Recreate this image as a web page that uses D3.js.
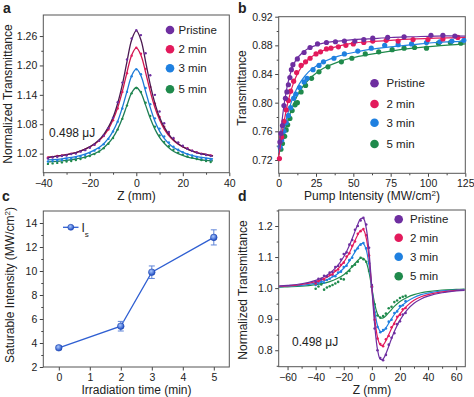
<!DOCTYPE html>
<html>
<head>
<meta charset="utf-8">
<script src="https://cdn.jsdelivr.net/npm/d3@7"></script>
<style>
  body { margin: 0; background: #fff; }
  svg text { font-family: "Liberation Sans", Arial, sans-serif; fill: #222; }
</style>
</head>
<body>
<svg id="fig" width="474" height="397"></svg>
<script>
// ---- data ----
const seriesNames = ['Pristine', '2 min', '3 min', '5 min'];
const seriesColors = ['#6e2ea0', '#e31a5c', '#1f80e0', '#1f8a4c'];

// (a) open-aperture Z-scan
const aDotZ = [-38,-36,-34,-32,-30,-28,-26,-24,-22,-20,-18,-16,-14,-12,-10,-8,-6,-4,-2,0,2,4,6,8,10,12,14,16,18,20,22,24,26,28,30,32];
const aDotPristine = [1.010,1.012,1.013,1.015,1.016,1.019,1.020,1.024,1.027,1.032,1.038,1.046,1.057,1.072,1.093,1.125,1.165,1.212,1.255,1.272,1.262,1.225,1.180,1.140,1.106,1.082,1.064,1.052,1.043,1.036,1.030,1.026,1.022,1.019,1.017,1.015];
const aDot2min = [1.012,1.013,1.015,1.016,1.017,1.020,1.021,1.025,1.028,1.033,1.038,1.046,1.056,1.069,1.088,1.112,1.146,1.184,1.220,1.236,1.224,1.193,1.156,1.122,1.095,1.075,1.061,1.050,1.042,1.035,1.031,1.026,1.023,1.020,1.018,1.016];
const aDot3min = [1.004,1.005,1.006,1.007,1.009,1.010,1.012,1.014,1.017,1.021,1.026,1.031,1.039,1.050,1.065,1.085,1.112,1.146,1.178,1.192,1.182,1.154,1.121,1.092,1.071,1.055,1.043,1.034,1.028,1.023,1.019,1.016,1.013,1.011,1.009,1.008];
const aDot5min = [0.999,1.000,1.001,1.002,1.004,1.005,1.007,1.009,1.012,1.015,1.019,1.024,1.031,1.040,1.052,1.069,1.091,1.118,1.143,1.154,1.146,1.124,1.097,1.075,1.057,1.044,1.035,1.028,1.022,1.018,1.014,1.012,1.009,1.007,1.005,1.003];
const aFitZ = [-38,-34,-30,-26,-22,-18,-15,-12,-10,-8,-6,-4,-2,0,2,4,6,8,10,12,15,18,22,26,30,33];
const aFitPristine = [1.012,1.015,1.018,1.022,1.029,1.040,1.053,1.074,1.094,1.123,1.161,1.208,1.252,1.271,1.252,1.208,1.161,1.123,1.094,1.074,1.053,1.040,1.029,1.022,1.018,1.015];
const aFit2min = [1.013,1.015,1.018,1.022,1.029,1.039,1.051,1.070,1.089,1.114,1.147,1.186,1.221,1.236,1.221,1.186,1.147,1.114,1.089,1.070,1.051,1.039,1.029,1.022,1.018,1.016];
const aFit3min = [1.007,1.008,1.011,1.014,1.019,1.027,1.036,1.051,1.066,1.086,1.114,1.147,1.179,1.193,1.179,1.147,1.114,1.086,1.066,1.051,1.036,1.027,1.019,1.014,1.011,1.009];
const aFit5min = [1.003,1.004,1.006,1.009,1.013,1.020,1.028,1.041,1.053,1.070,1.092,1.119,1.144,1.155,1.144,1.119,1.092,1.070,1.053,1.041,1.028,1.020,1.013,1.009,1.006,1.005];
const aXTicks = [-40, -20, 0, 20, 40];
const aYTicks = [1.02, 1.08, 1.14, 1.20, 1.26];

// (b) transmittance vs pump intensity
const bDotIPristine = [0.8,1.5,2.5,3.5,4.5,5.5,6.5,7.5,8.5,9.5,12.5,17,21,26,32,38,44,51,57,63,73,84,102,110,118];
const bDotTPristine = [0.745,0.757,0.768,0.796,0.806,0.815,0.825,0.835,0.846,0.853,0.861,0.870,0.877,0.882,0.884,0.885,0.886,0.886,0.888,0.890,0.891,0.892,0.894,0.894,0.893];
const bDotI2min = [0.5,2,3.5,5,6.5,8,10,12,15,18,21,25,28,32,35,40,45,50,57,63,72,80,90,100,110,120];
const bDotT2min = [0.722,0.752,0.774,0.790,0.803,0.816,0.830,0.842,0.852,0.857,0.862,0.868,0.871,0.875,0.876,0.878,0.880,0.882,0.884,0.886,0.887,0.886,0.888,0.888,0.889,0.891];
const bDotI3min = [1,2,3.5,5,6.5,8,10,11.5,14,17,19,23,27,30,37,44,53,62,71,80,89,99,108,116,124];
const bDotT3min = [0.738,0.748,0.760,0.772,0.782,0.793,0.806,0.812,0.821,0.829,0.834,0.846,0.852,0.857,0.862,0.868,0.872,0.876,0.880,0.881,0.882,0.884,0.885,0.886,0.887];
const bDotI5min = [1.5,2.5,4,5,6,7.5,9,11,12.5,15,18,22,27,33,42,49,58,67,76,84,91,99,107,115,122];
const bDotT5min = [0.735,0.743,0.753,0.762,0.769,0.778,0.789,0.797,0.800,0.815,0.824,0.834,0.843,0.850,0.857,0.862,0.868,0.871,0.874,0.876,0.877,0.876,0.883,0.884,0.883];
const bFitI = [0,1,2,3,4,5,6,8,10,12,15,20,25,30,40,50,60,75,90,105,125];
const bFitPristine = [0.735,0.752,0.770,0.788,0.803,0.815,0.826,0.842,0.853,0.861,0.868,0.876,0.880,0.883,0.886,0.888,0.889,0.891,0.892,0.893,0.893];
const bFit2min = [0.725,0.738,0.752,0.766,0.778,0.789,0.799,0.815,0.828,0.838,0.849,0.861,0.868,0.873,0.879,0.883,0.885,0.887,0.889,0.890,0.891];
const bFit3min = [0.730,0.739,0.749,0.758,0.767,0.776,0.784,0.798,0.810,0.819,0.830,0.843,0.851,0.857,0.865,0.870,0.874,0.878,0.881,0.884,0.886];
const bFit5min = [0.727,0.735,0.743,0.751,0.759,0.767,0.774,0.787,0.798,0.808,0.819,0.832,0.841,0.848,0.857,0.863,0.867,0.872,0.876,0.879,0.882];
const bXTicks = [0, 25, 50, 75, 100, 125];
const bYTicks = [0.72, 0.76, 0.80, 0.84, 0.88, 0.92];

// (c) saturable intensity vs irradiation time
const cTime = [0, 2, 3, 5];
const cIs = [3.6, 5.4, 9.9, 12.8];
const cErr = [0.15, 0.4, 0.52, 0.63];
const cXTicks = [0, 1, 2, 3, 4, 5];
const cYTicks = [2, 4, 6, 8, 10, 12, 14];

// (d) closed-aperture Z-scan
const dDotZ = [-40,-38,-36,-34,-32,-30,-28,-26,-24,-22,-20,-18,-16,-14,-12,-10,-8,-6,-4,-2,0,2,4,6,8,10,12,14,16,18,20,22,24];
const dDotPristine = [1.020,1.030,1.028,1.040,1.038,1.050,1.052,1.068,1.071,1.092,1.110,1.115,1.140,1.155,1.188,1.200,1.218,1.226,1.205,1.130,1.010,0.870,0.800,0.775,0.768,0.785,0.818,0.840,0.855,0.884,0.893,0.915,0.920];
const dDot2min = [1.015,1.022,1.030,1.028,1.037,1.042,1.044,1.056,1.060,1.075,1.082,1.102,1.112,1.136,1.150,1.175,1.183,1.190,1.170,1.105,1.005,0.898,0.838,0.820,0.813,0.835,0.846,0.874,0.885,0.908,0.914,0.932,0.936];
const dDot3min = [1.010,1.015,1.020,1.018,1.026,1.030,1.040,1.038,1.050,1.053,1.068,1.072,1.090,1.098,1.120,1.128,1.140,1.145,1.128,1.080,1.003,0.922,0.875,0.858,0.865,0.870,0.892,0.898,0.920,0.925,0.942,0.945,0.958];
const dDot5min = [0.998,1.005,1.012,0.995,1.002,1.006,1.010,1.015,1.020,1.030,1.028,1.048,1.055,1.070,1.075,1.085,1.098,1.093,1.085,1.055,1.005,0.948,0.912,0.905,0.910,0.918,0.935,0.940,0.955,0.960,0.968,0.972,0.975];
const dFitZ = [-66,-60,-50,-40,-35,-30,-25,-20,-16,-13,-10,-8,-6,-4,-2,0,2,4,6,8,10,13,16,20,25,30,35,40,50,60,66];
const dFitPristine = [1.007,1.009,1.014,1.025,1.034,1.048,1.069,1.101,1.137,1.171,1.206,1.223,1.224,1.193,1.116,1.0,0.882,0.803,0.771,0.772,0.789,0.825,0.860,0.897,0.929,0.951,0.965,0.974,0.985,0.991,0.993];
const dFit2min = [1.006,1.007,1.012,1.021,1.029,1.040,1.058,1.084,1.114,1.143,1.172,1.186,1.187,1.161,1.097,1.0,0.905,0.842,0.817,0.817,0.831,0.860,0.888,0.917,0.943,0.961,0.972,0.979,0.988,0.993,0.994];
const dFit3min = [1.004,1.006,1.009,1.016,1.022,1.031,1.044,1.064,1.087,1.109,1.131,1.142,1.143,1.123,1.074,1.0,0.928,0.880,0.861,0.861,0.872,0.894,0.915,0.937,0.957,0.970,0.979,0.984,0.991,0.994,0.996];
const dFit5min = [1.003,1.004,1.006,1.011,1.015,1.021,1.030,1.043,1.059,1.074,1.089,1.096,1.096,1.083,1.050,1.0,0.950,0.917,0.904,0.904,0.911,0.926,0.941,0.957,0.970,0.979,0.985,0.989,0.994,0.996,0.997];
const dXTicks = [-60, -40, -20, 0, 20, 40, 60];
const dYTicks = [0.8, 0.9, 1.0, 1.1, 1.2];

// ---- drawing ----
const svg = d3.select('#fig');

function makePanel(box, xDomain, yDomain) {
  return {
    box: box,
    x: d3.scaleLinear().domain(xDomain).range([box.x0, box.x1]),
    y: d3.scaleLinear().domain(yDomain).range([box.y1, box.y0]),
  };
}

function midpoints(ticks) {
  let out = [];
  for (let i = 0; i < ticks.length - 1; i++) out.push((ticks[i] + ticks[i + 1]) / 2);
  return out;
}

function drawAxes(p, xTicks, yTicks, xFmt, yFmt, xMinor, yMinor) {
  const b = p.box;
  const styleAxis = g => {
    g.select('.domain').remove();
    g.selectAll('line').attr('stroke', '#444');
    g.selectAll('text').style('font-size', '10.5px').attr('fill', '#222');
  };
  if (xMinor.length)
    svg.append('g').attr('transform', `translate(0,${b.y1})`)
      .call(d3.axisBottom(p.x).tickValues(xMinor).tickSize(2).tickFormat(''))
      .call(styleAxis);
  svg.append('g').attr('transform', `translate(0,${b.y1})`)
    .call(d3.axisBottom(p.x).tickValues(xTicks).tickSize(3.5).tickPadding(3).tickFormat(xFmt))
    .call(styleAxis);
  if (yMinor.length)
    svg.append('g').attr('transform', `translate(${b.x0},0)`)
      .call(d3.axisLeft(p.y).tickValues(yMinor).tickSize(2).tickFormat(''))
      .call(styleAxis);
  svg.append('g').attr('transform', `translate(${b.x0},0)`)
    .call(d3.axisLeft(p.y).tickValues(yTicks).tickSize(3.5).tickPadding(2.5).tickFormat(yFmt))
    .call(styleAxis);
  svg.append('rect')
    .attr('x', b.x0).attr('y', b.y0)
    .attr('width', b.x1 - b.x0).attr('height', b.y1 - b.y0)
    .attr('fill', 'none').attr('stroke', '#555').attr('stroke-width', 1);
}

function drawFit(p, xs, ys, color, width) {
  const line = d3.line()
    .x((d, i) => p.x(xs[i]))
    .y(d => p.y(d))
    .curve(d3.curveCatmullRom.alpha(0.5));
  svg.append('path').datum(ys)
    .attr('d', line)
    .attr('fill', 'none')
    .attr('stroke', color)
    .attr('stroke-width', width);
}

function drawDots(p, xs, ys, color, r) {
  svg.append('g').selectAll('circle')
    .data(ys)
    .enter()
    .append('circle')
    .attr('cx', (d, i) => p.x(xs[i]))
    .attr('cy', d => p.y(d))
    .attr('r', r)
    .attr('fill', color);
}

function drawLegend(x, ys, textX) {
  seriesNames.forEach((name, i) => {
    svg.append('circle').attr('cx', x).attr('cy', ys[i]).attr('r', 4.3).attr('fill', seriesColors[i]);
    svg.append('text').attr('x', textX).attr('y', ys[i] + 4)
      .style('font-size', '11.5px').text(name);
  });
}

function yTitle(x, y, txt) {
  return svg.append('text')
    .attr('transform', `translate(${x},${y})rotate(-90)`)
    .attr('text-anchor', 'middle')
    .style('font-size', '12px')
    .text(txt);
}

function xTitle(x, y, txt) {
  return svg.append('text')
    .attr('x', x).attr('y', y)
    .attr('text-anchor', 'middle')
    .style('font-size', '12px')
    .text(txt);
}

function panelLetter(x, y, txt) {
  svg.append('text').attr('x', x).attr('y', y)
    .style('font-size', '14px').style('font-weight', 'bold').text(txt);
}

// panel a
const pa = makePanel({x0: 43.3, x1: 229.3, y0: 15, y1: 172.7}, [-40, 40], [0.981, 1.303]);
drawAxes(pa, aXTicks, aYTicks, d3.format('d'), d3.format('.2f'), midpoints(aXTicks), midpoints(aYTicks));
const aDots = [aDotPristine, aDot2min, aDot3min, aDot5min];
const aFits = [aFitPristine, aFit2min, aFit3min, aFit5min];
const aFitColors = ['#4a1850', '#d0154f', '#1c78d6', '#1f7e56'];
[3, 2, 1, 0].forEach(i => {
  drawFit(pa, aFitZ, aFits[i], aFitColors[i], 1.3);
  drawDots(pa, aDotZ, aDots[i], seriesColors[i], 1.2);
});
drawLegend(170, [30, 49.3, 68.3, 89.3], 178.5);
svg.append('text').attr('x', 49).attr('y', 137).style('font-size', '12px').text('0.498 μJ');
yTitle(12, 94, 'Normalized Transmittance');
xTitle(136.5, 200, 'Z (mm)');
panelLetter(3, 13, 'a');

// panel b
const pb = makePanel({x0: 278.7, x1: 465.3, y0: 16.7, y1: 173.3}, [0, 125], [0.7014, 0.92]);
drawAxes(pb, bXTicks, bYTicks, d3.format('d'), d3.format('.2f'), midpoints(bXTicks), midpoints(bYTicks));
const bFits = [bFitPristine, bFit2min, bFit3min, bFit5min];
const bDotI = [bDotIPristine, bDotI2min, bDotI3min, bDotI5min];
const bDotT = [bDotTPristine, bDotT2min, bDotT3min, bDotT5min];
[3, 2, 1, 0].forEach(i => {
  drawFit(pb, bFitI, bFits[i], seriesColors[i], 1.2);
  drawDots(pb, bDotI[i], bDotT[i], seriesColors[i], 2.6);
});
drawLegend(374.5, [83.3, 104, 122.7, 144], 386.5);
yTitle(246, 88, 'Transmittance');
const bx = xTitle(372, 200, 'Pump Intensity (MW/cm');
bx.append('tspan').attr('baseline-shift', 'super').style('font-size', '8px').text('2');
bx.append('tspan').text(')');
panelLetter(238, 13, 'b');

// panel c
const pc = makePanel({x0: 43.3, x1: 229.3, y0: 211, y1: 367}, [-0.5, 5.5], [2, 15]);
drawAxes(pc, cXTicks, cYTicks, d3.format('d'), d3.format('d'), [], [3, 5, 7, 9, 11, 13]);
const grad = svg.append('defs').append('radialGradient')
  .attr('id', 'ball').attr('cx', '40%').attr('cy', '35%').attr('r', '65%');
grad.append('stop').attr('offset', '0%').attr('stop-color', '#a9c8ff');
grad.append('stop').attr('offset', '100%').attr('stop-color', '#1a48c0');
const cLine = d3.line().x((d, i) => pc.x(cTime[i])).y(d => pc.y(d));
svg.append('path').datum(cIs).attr('d', cLine)
  .attr('fill', 'none').attr('stroke', '#2f5fd2').attr('stroke-width', 1.3);
const errG = svg.append('g').attr('stroke', '#5f84d8').attr('stroke-width', 1);
cIs.forEach((v, i) => {
  const cx = pc.x(cTime[i]);
  errG.append('line').attr('x1', cx).attr('x2', cx)
    .attr('y1', pc.y(v - cErr[i])).attr('y2', pc.y(v + cErr[i]));
  errG.append('line').attr('x1', cx - 3).attr('x2', cx + 3)
    .attr('y1', pc.y(v - cErr[i])).attr('y2', pc.y(v - cErr[i]));
  errG.append('line').attr('x1', cx - 3).attr('x2', cx + 3)
    .attr('y1', pc.y(v + cErr[i])).attr('y2', pc.y(v + cErr[i]));
});
svg.append('g').selectAll('circle').data(cIs).enter().append('circle')
  .attr('cx', (d, i) => pc.x(cTime[i])).attr('cy', d => pc.y(d))
  .attr('r', 3.3).attr('fill', 'url(#ball)').attr('stroke', '#1d45b0').attr('stroke-width', 0.6);
svg.append('line').attr('x1', 63).attr('x2', 78.5).attr('y1', 227.3).attr('y2', 227.3)
  .attr('stroke', '#2f5fd2').attr('stroke-width', 1.3);
svg.append('circle').attr('cx', 70.8).attr('cy', 227.3).attr('r', 3)
  .attr('fill', 'url(#ball)').attr('stroke', '#1d45b0').attr('stroke-width', 0.6);
const isLbl = svg.append('text').attr('x', 81.5).attr('y', 232).style('font-size', '12px').text('I');
isLbl.append('tspan').attr('baseline-shift', 'sub').style('font-size', '8px').text('s');
const cy = yTitle(14, 285, 'Saturable Intensity (MW/cm');
cy.append('tspan').attr('baseline-shift', 'super').style('font-size', '8px').text('2');
cy.append('tspan').text(')');
xTitle(136.5, 393.5, 'Irradiation time (min)');
panelLetter(2, 201, 'c');

// panel d
const pd = makePanel({x0: 278.7, x1: 465.3, y0: 210, y1: 366.7}, [-66.3, 66.5], [0.747, 1.2515]);
drawAxes(pd, dXTicks, dYTicks, d3.format('d'), d3.format('.1f'), [-50, -30, -10, 10, 30, 50], [0.75, 0.85, 0.95, 1.05, 1.15, 1.25]);
const dDots = [dDotPristine, dDot2min, dDot3min, dDot5min];
const dFits = [dFitPristine, dFit2min, dFit3min, dFit5min];
[3, 2, 1, 0].forEach(i => {
  drawFit(pd, dFitZ, dFits[i], seriesColors[i], 1.2);
  drawDots(pd, dDotZ, dDots[i], seriesColors[i], 1.3);
});
drawLegend(398.7, [219.3, 237.7, 256.7, 276.3], 410);
svg.append('text').attr('x', 292).attr('y', 345.5).style('font-size', '12px').text('0.498 μJ');
yTitle(247, 290, 'Normalized Transmittance');
xTitle(372, 393.5, 'Z (mm)');
panelLetter(238, 201, 'd');
</script>
</body>
</html>
